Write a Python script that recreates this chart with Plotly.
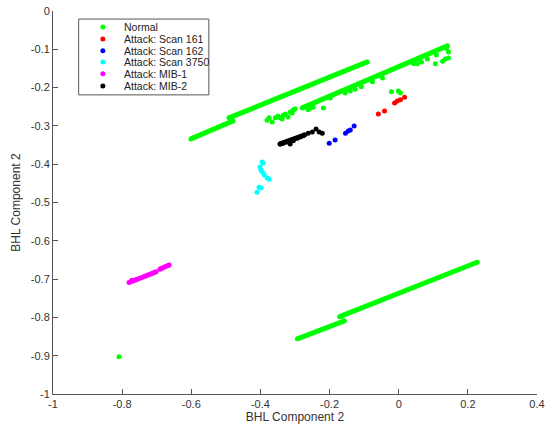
import plotly.graph_objects as go

# Scatter of BHL components, normal traffic vs attacks
# dense streaks are given as segment end points (x0, y0, x1, y1)

normal_x = [-0.809, -0.381, -0.375, -0.366, -0.357, -0.349, -0.343, -0.337, -0.334, -0.328,
            -0.320, -0.314, -0.308, -0.305, -0.300, -0.262, -0.256, -0.247, -0.218, -0.198,
            -0.155, -0.140, -0.126, -0.108, -0.076, -0.047, -0.021, -0.001, 0.005, 0.043,
            0.054, 0.066, 0.083, 0.109, 0.106, 0.127, 0.135, 0.144, 0.138, 0.144]
normal_y = [-0.903, -0.285, -0.279, -0.290, -0.279, -0.274, -0.279, -0.282, -0.272, -0.269,
            -0.277, -0.264, -0.266, -0.258, -0.256, -0.258, -0.253, -0.251, -0.253, -0.227,
            -0.214, -0.209, -0.204, -0.198, -0.185, -0.175, -0.211, -0.209, -0.214, -0.138,
            -0.138, -0.133, -0.125, -0.115, -0.138, -0.131, -0.125, -0.123, -0.097, -0.107]
normal_streaks = [(-0.601, -0.334, -0.479, -0.287),
                  (-0.491, -0.279, -0.091, -0.133),
                  (-0.279, -0.253, 0.141, -0.091),
                  (-0.293, -0.856, -0.157, -0.809),
                  (-0.171, -0.798, 0.227, -0.656)]

scan161_x = [-0.059, -0.041, -0.012, -0.004, 0.005, 0.017]
scan161_y = [-0.269, -0.261, -0.240, -0.235, -0.232, -0.225]

scan162_x = [-0.201, -0.184, -0.154, -0.146, -0.140, -0.129]
scan162_y = [-0.345, -0.337, -0.319, -0.313, -0.311, -0.300]

scan3750_x = [-0.395, -0.392, -0.401, -0.398, -0.395, -0.389, -0.380, -0.375, -0.404, -0.398, -0.410]
scan3750_y = [-0.394, -0.397, -0.407, -0.415, -0.420, -0.428, -0.436, -0.439, -0.460, -0.462, -0.473]

mib1_x = [-0.772, -0.760]
mib1_y = [-0.703, -0.702]
mib1_streaks = [(-0.780, -0.709, -0.702, -0.681),
                (-0.691, -0.674, -0.664, -0.663)]

mib2_x = [-0.343, -0.334, -0.323, -0.314, -0.305, -0.294, -0.285, -0.273, -0.262, -0.250,
          -0.239, -0.230, -0.221]
mib2_y = [-0.347, -0.345, -0.342, -0.347, -0.339, -0.332, -0.329, -0.324, -0.319, -0.316,
          -0.308, -0.316, -0.319]
mib2_streaks = [(-0.343, -0.347, -0.273, -0.324)]

names = ["Normal", "Attack: Scan 161", "Attack: Scan 162", "Attack: Scan 3750",
         "Attack: MIB-1", "Attack: MIB-2"]
colors = ["#00ff00", "#ff0000", "#0000ff", "#00ffff", "#ff00ff", "#000000"]

x_ticks = [-1, -0.8, -0.6, -0.4, -0.2, 0, 0.2, 0.4]
y_ticks = [0, -0.1, -0.2, -0.3, -0.4, -0.5, -0.6, -0.7, -0.8, -0.9, -1]

fig = go.Figure()


def add_streaks(streaks, color):
    xs, ys = [], []
    for x0, y0, x1, y1 in streaks:
        xs += [x0, x1, None]
        ys += [y0, y1, None]
    fig.add_trace(go.Scatter(x=xs, y=ys, mode="lines+markers", showlegend=False,
                             line=dict(color=color, width=5),
                             marker=dict(color=color, size=5), hoverinfo="skip"))


add_streaks(normal_streaks, colors[0])
all_x = [normal_x, scan161_x, scan162_x, scan3750_x, mib1_x, mib2_x]
all_y = [normal_y, scan161_y, scan162_y, scan3750_y, mib1_y, mib2_y]
for i in range(len(names)):
    if names[i] == "Attack: MIB-1":
        add_streaks(mib1_streaks, colors[i])
    if names[i] == "Attack: MIB-2":
        add_streaks(mib2_streaks, colors[i])
    fig.add_trace(go.Scatter(x=all_x[i], y=all_y[i], mode="markers", name=names[i],
                             showlegend=False, marker=dict(color=colors[i], size=5)))

# legend box drawn by hand (plotly's legend rows are too tall for this one)
leg_x0, leg_x1, leg_y0, leg_y1 = 0.053, 0.322, 0.781, 0.979
row_y = [0.958, 0.927, 0.896, 0.867, 0.836, 0.804]
fig.add_shape(type="rect", xref="paper", yref="paper", x0=leg_x0, x1=leg_x1,
              y0=leg_y0, y1=leg_y1, line=dict(color="#555555", width=1),
              fillcolor="white", layer="below")
fig.add_trace(go.Scatter(x=[0.103] * len(names), y=row_y, mode="markers",
                         marker=dict(color=colors, size=5), xaxis="x2", yaxis="y2",
                         showlegend=False, hoverinfo="skip"))
for i in range(len(names)):
    fig.add_annotation(x=0.142, y=row_y[i], xref="paper", yref="paper", text=names[i],
                       showarrow=False, xanchor="left", yanchor="middle",
                       font=dict(size=10.5, color="#222222"))

axis_style = dict(showgrid=False, zeroline=False, showline=True, linecolor="#555555",
                  linewidth=1, ticks="inside", ticklen=5, tickcolor="#555555",
                  tickfont=dict(size=11, color="#333333"), mirror=False, automargin=False,
                  ticklabeloverflow="allow")

fig.update_xaxes(range=[-1, 0.4], tickvals=x_ticks, ticktext=[f"{v:g}" for v in x_ticks],
                 title=dict(text="BHL Component 2", font=dict(size=12, color="#333333"),
                            standoff=3), **axis_style)
fig.update_yaxes(range=[-1, 0], tickvals=y_ticks, ticktext=[f"{v:g}" for v in y_ticks],
                 title=dict(text="BHL Component 2", font=dict(size=12, color="#333333"),
                            standoff=7), **axis_style)

fig.update_layout(
    width=550, height=431,
    margin=dict(l=53, r=13, t=11, b=37),
    plot_bgcolor="white", paper_bgcolor="white",
    font=dict(family="Liberation Sans, Arial", color="#333333"),
    showlegend=False,
    xaxis2=dict(domain=[0, 1], range=[0, 1], visible=False, overlaying="x", anchor="y2"),
    yaxis2=dict(domain=[0, 1], range=[0, 1], visible=False, overlaying="y", anchor="x2"),
)

# drop the default 8px page margin so the figure fills the window
fig.write_html("out.html", config={"displayModeBar": False},
               post_script="document.body.style.margin = '0px';")
